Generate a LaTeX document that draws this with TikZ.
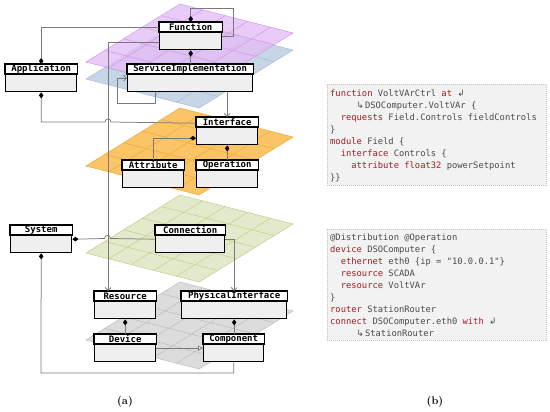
\documentclass[tikz,border=0pt]{standalone}
\usepackage{fontspec}
\setmonofont{DejaVu Sans Mono}
\newfontfamily\arrowfont{DejaVu Sans}
\usetikzlibrary{arrows.meta,calc}
\definecolor{boxbody}{HTML}{EFEFEF}
\definecolor{linegray}{HTML}{7A7A7A}
\definecolor{codebg}{HTML}{F2F2F2}
\definecolor{codeborder}{HTML}{C4C4C4}
\definecolor{codegray}{HTML}{4A4A4A}
\definecolor{kwred}{HTML}{A01C24}
\definecolor{purpfill}{HTML}{E4BEF5}
\definecolor{purpgrid}{HTML}{D496EA}
\definecolor{bluefill}{HTML}{C6D6E6}
\definecolor{bluegrid}{HTML}{A9BED3}
\definecolor{orfill}{HTML}{FBC466}
\definecolor{orgrid}{HTML}{EFA93A}
\definecolor{grfill}{HTML}{E3EACB}
\definecolor{grgrid}{HTML}{C3CE8C}
\definecolor{gyfill}{HTML}{DCDCDC}
\definecolor{gygrid}{HTML}{BDBDBD}
\newcommand\kw[1]{\textcolor{kwred}{#1}}
\newcommand\umlc[5]{%
  \node[cbox, minimum width=#4pt, anchor=north west] (#1) at (#2,#3) {};
  \draw[cboxline, fill=white] (#1.north west) rectangle ([yshift=-10pt]#1.north east);
  \node[ctitle] (#1t) at ([yshift=-5.2pt]#1.north) {#5};
}
\newcommand\plane[4]{%
  \begin{scope}[shift={(0,#1)}]
    \coordinate (pT) at (180,0);
    \coordinate (pR) at (293,29);
    \coordinate (pB) at (199,87);
    \coordinate (pL) at (86,58);
    \fill[#2, fill opacity=#4] (pT) -- (pR) -- (pB) -- (pL) -- cycle;
    \foreach \i in {1,...,4}{
      \draw[#3, line width=0.5pt] ($(pT)!\i/5!(pR)$) -- ($(pL)!\i/5!(pB)$);
      \draw[#3, line width=0.5pt] ($(pT)!\i/5!(pL)$) -- ($(pR)!\i/5!(pB)$);
    }
    \draw[#3, line width=0.5pt] (pT) -- (pR) -- (pB) -- (pL) -- cycle;
  \end{scope}
}
\tikzset{
  cbox/.style={draw=black, line width=1.4pt, fill=boxbody, inner sep=0pt, minimum height=27pt, rectangle},
  cboxline/.style={draw=black, line width=1.4pt},
  ctitle/.style={font=\ttfamily\bfseries\fontsize{9}{9}\selectfont, inner sep=0pt, text=black},
  conn/.style={draw=linegray, line width=0.75pt},
  comp/.style={conn, {Diamond[length=6pt,width=4.5pt,color=black]}-},
  nav/.style={conn, -{Straight Barb[length=3pt,width=6pt]}},
  gen/.style={conn, -{Triangle[open,length=5pt,width=5pt,fill=white]}},
  codebox/.style={draw=codeborder, dash pattern=on 1pt off 1pt, fill=codebg, line width=0.5pt, inner sep=0pt, rectangle},
  codetext/.style={font=\ttfamily\fontsize{8.8}{11.9}\selectfont, text=codegray, align=left, inner sep=0pt},
  captionlbl/.style={font=\bfseries\fontsize{11}{12}\selectfont, inner sep=0pt},
}
\begin{document}
\begin{tikzpicture}[x=1pt, y=-1pt]
\useasboundingbox (0,0) rectangle (550,412);
% planes
\plane{282}{gyfill}{gygrid}{1}
\plane{195}{grfill}{grgrid}{1}
\plane{108}{orfill}{orgrid}{1}
\plane{21}{bluefill}{bluegrid}{1}
\plane{4}{purpfill}{purpgrid}{0.8}
% classes
\umlc{fun}{159}{22}{62}{Function}
\umlc{app}{5}{64}{71}{Application}
\umlc{si}{127}{64}{125}{ServiceImplementation}
\umlc{intf}{196}{117}{61}{Interface}
\umlc{attr}{122}{160}{61}{Attribute}
\umlc{oper}{196}{160}{61}{Operation}
\umlc{sys}{10}{225}{61}{System}
\umlc{con}{155}{225}{69}{Connection}
\umlc{res}{94}{291}{61}{Resource}
\umlc{phy}{181}{291}{105}{PhysicalInterface}
\umlc{dev}{94}{334}{61}{Device}
\umlc{cmp}{203}{334}{60}{Component}
% connectors
\coordinate (c1) at (233,8);
\draw[comp] (fun.north) |- (c1) |- (fun.east);
\draw[comp] (fun.south) -- (fun.south |- si.north);
\draw[comp] (app.north) |- ([yshift=8.5pt]fun.west);
\draw[nav] ([yshift=-6.5pt]fun.west) -| ([xshift=-17pt]res.north);
\coordinate (h1a) at (105,122);
\coordinate (h1b) at (111,122);
\draw[comp] (app.south) |- (h1a) .. controls (105,118) and (111,118) .. (h1b) -- ([yshift=8pt]intf.west);
\coordinate (c2) at (117,103);
\draw[nav] ([xshift=-34.5pt]si.south) |- (c2) |- (si.west);
\draw[nav] (si.south -| intf.north) -- (intf.north);
\draw[comp] ([yshift=-7pt]intf.west) -| (attr.north);
\draw[comp] (intf.south) -- (oper.north);
\coordinate (h2a) at (104.5,238.5);
\coordinate (h2b) at (110.5,238.5);
\draw[comp] (sys.east) -- (h2a) .. controls (104.5,234.5) and (110.5,234.5) .. (h2b) -- (con.west);
\draw[nav] (con.east) -| (phy.north);
\draw[comp] (res.south) -- (dev.north);
\draw[comp] (phy.south) -- (phy.south |- cmp.north);
\draw[gen] (dev.east) -- (cmp.west);
\coordinate (c3) at (41,373);
\draw[comp] (sys.south) -- (c3) -| (cmp.south);
% code listings
\node[codebox, anchor=north west, minimum width=219pt, minimum height=101pt] (code1) at (327,84) {};
\node[codetext, anchor=north west] (code1t) at (330,90) {%
\kw{function} VoltVArCtrl \kw{at} {\arrowfont ↲}\\
\ \ \ \ \ {\arrowfont ↳}\hspace{1pt}DSOComputer.VoltVAr \{\\
\ \ \kw{requests} Field.Controls fieldControls\\
\}\\
\kw{module} Field \{\\
\ \ \kw{interface} Controls \{\\
\ \ \ \ \kw{attribute} \kw{float32} powerSetpoint\\
\}\}};
\node[codebox, anchor=north west, minimum width=219pt, minimum height=111pt] (code2) at (327,229) {};
\node[codetext, anchor=north west] (code2t) at (330,234) {%
@Distribution @Operation\\
\kw{device} DSOComputer \{\\
\ \ \kw{ethernet} eth0 \{ip = "10.0.0.1"\}\\
\ \ \kw{resource} SCADA\\
\ \ \kw{resource} VoltVAr\\
\}\\
\kw{router} StationRouter\\
\kw{connect} DSOComputer.eth0 \kw{with} {\arrowfont ↲}\\
\ \ \ \ \ {\arrowfont ↳}\hspace{1pt}StationRouter};
% captions
\node[captionlbl] (capa) at (125,402) {(a)};
\node[captionlbl] (capb) at (435,402) {(b)};
\end{tikzpicture}
\end{document}
